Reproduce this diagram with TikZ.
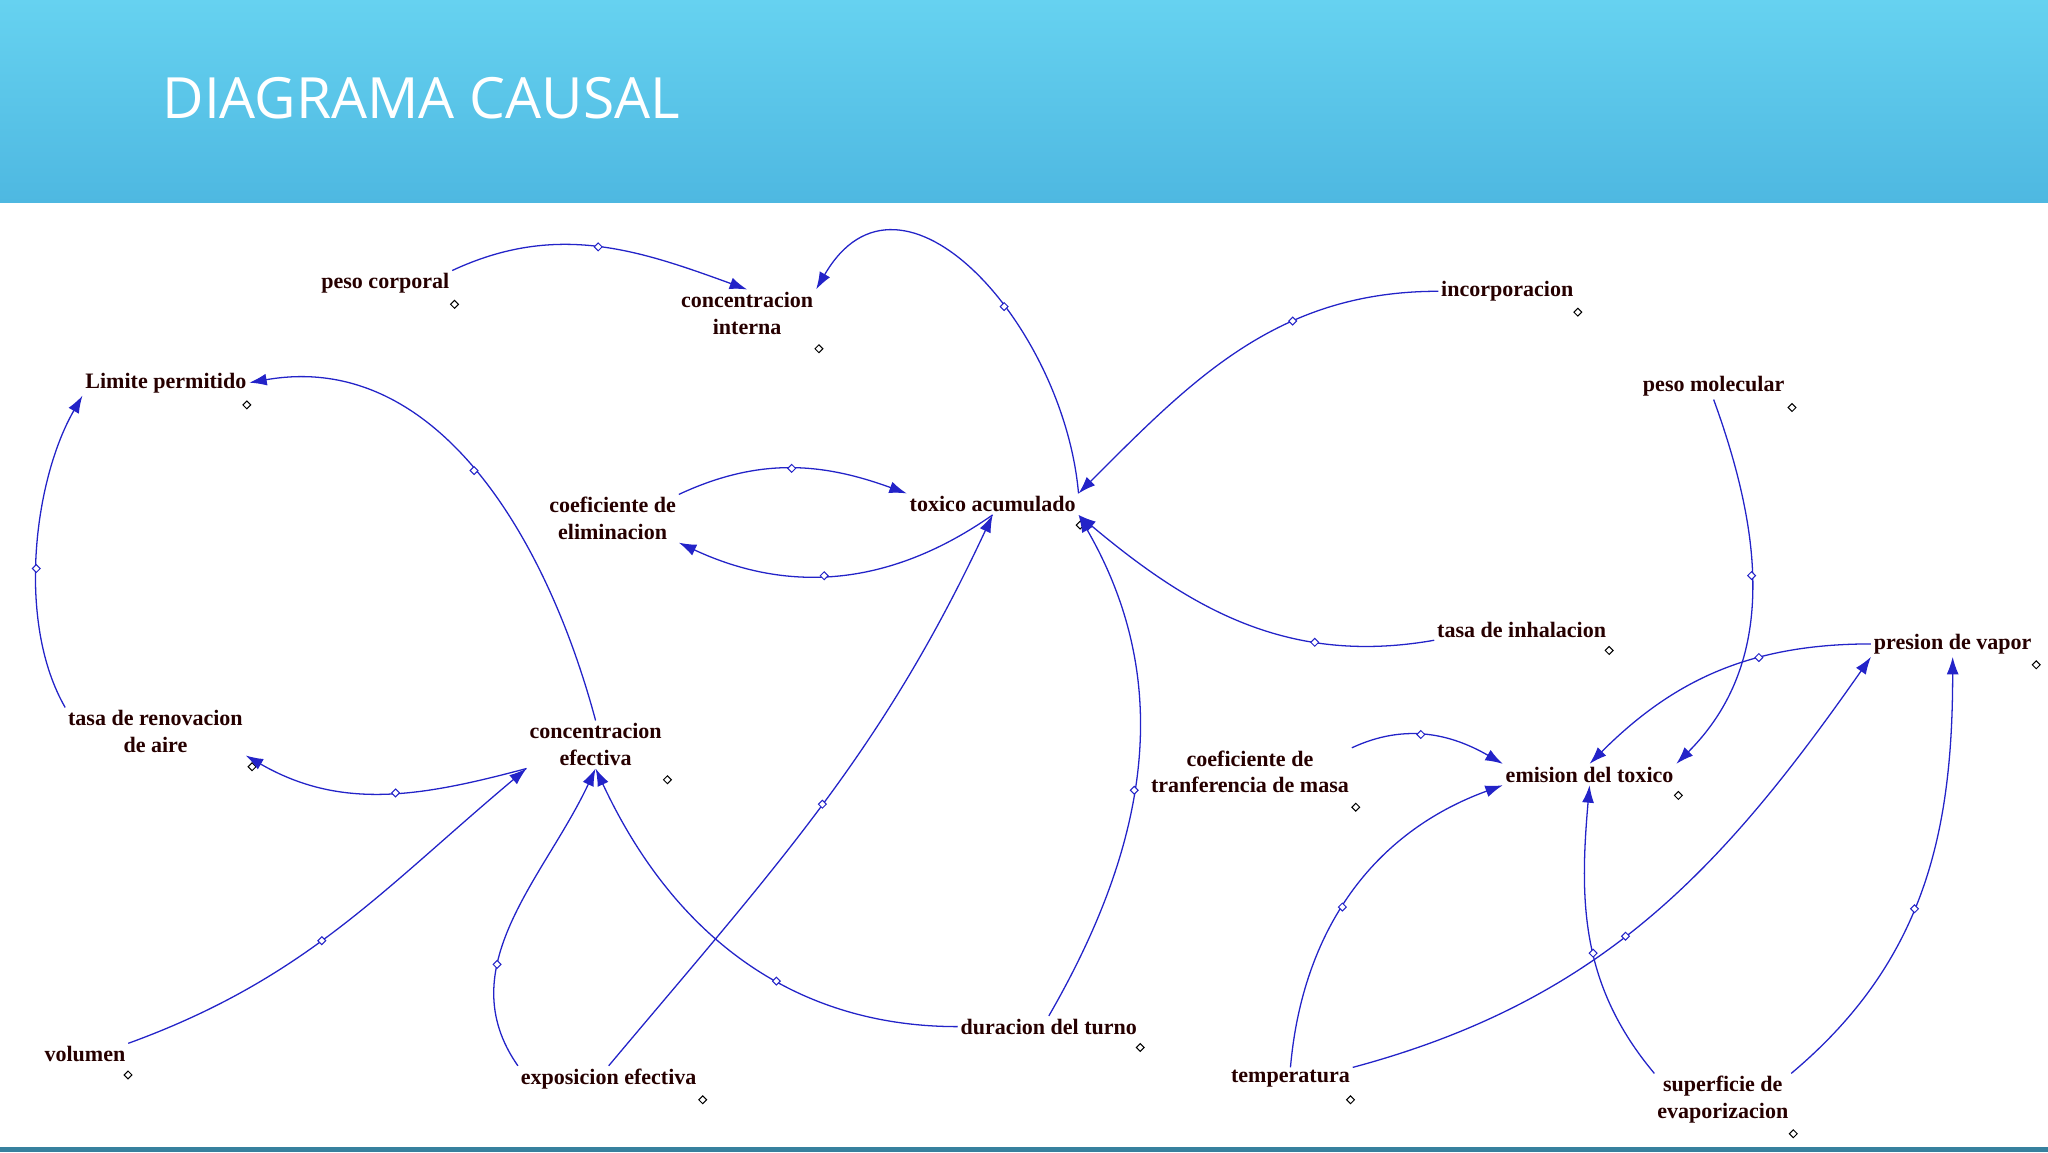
\documentclass[tikz,border=0pt]{standalone}
\usepackage{fontspec}
\setmainfont{Liberation Serif}
\newfontfamily\titlefont{Open Sans}
\usetikzlibrary{arrows.meta,shapes.geometric}
\definecolor{hdrA}{HTML}{66D2F0}
\definecolor{hdrB}{HTML}{4EB8E1}
\definecolor{arc}{HTML}{2323C8}
\begin{document}
\begin{tikzpicture}[x=0.05cm,y=-0.05cm,
  lab/.style={align=center,font=\bfseries\fontsize{24}{29}\selectfont,inner sep=3pt,text=black!85!red},
  lk/.style={draw=arc,line width=1.4pt,-{Latex[length=19pt,width=13pt]},looseness=1},
  dia/.style={diamond,draw=arc,line width=1.1pt,fill=white,inner sep=0pt,minimum size=9pt},
  ldia/.style={diamond,draw=black,line width=1.1pt,fill=white,inner sep=0pt,minimum size=9pt}]
\useasboundingbox (0,0) rectangle (1568,882);
\shade[top color=hdrA,bottom color=hdrB] (0,0) rectangle (1568,155);
\fill[hdrB!70!black] (0,878) rectangle (1568,882);
\node[anchor=west,text=white,font=\titlefont\fontsize{62}{70}\selectfont] (title) at (122,75) {DIAGRAMA CAUSAL};

\node[lab] (pc) at (295,217) {peso corporal};
\node[lab] (ci) at (572,240) {concentracion\\interna};
\node[lab] (lp) at (127,293) {Limite permitido};
\node[lab] (inc) at (1154,223) {incorporacion};
\node[lab] (pm) at (1312,296) {peso molecular};
\node[lab] (ce) at (469,397) {coeficiente de\\eliminacion};
\node[lab] (ta) at (760,386) {toxico acumulado};
\node[lab] (ti) at (1165,482) {tasa de inhalacion};
\node[lab] (pv) at (1495,493) {presion de vapor};
\node[lab] (tr) at (119,560) {tasa de renovacion\\de aire};
\node[lab] (cef) at (456,570) {concentracion\\efectiva};
\node[lab] (ct) at (957,591) {coeficiente de\\tranferencia de masa};
\node[lab] (et) at (1217,593) {emision del toxico};
\node[lab] (vol) at (65,807) {volumen};
\node[lab] (ee) at (466,826) {exposicion efectiva};
\node[lab] (dt) at (803,786) {duracion del turno};
\node[lab] (tem) at (988,826) {temperatura};
\node[lab] (se) at (1319,842) {superficie de\\evaporizacion};

\foreach \n/\p in {pc/{(348,233)},ci/{(627,267)},lp/{(189,310)},inc/{(1208,239)},pm/{(1372,312)},ta/{(827,402)},ti/{(1232,498)},pv/{(1559,509)},tr/{(193,587)},cef/{(511,597)},ct/{(1038,618)},et/{(1285,609)},vol/{(98,823)},ee/{(538,842)},dt/{(873,802)},tem/{(1034,842)},se/{(1373,868)}}
  \node[ldia] (d\n) at \p {};

\draw[lk] (pc.north east) to[out=25,in=160] node[dia,pos=.5]{} (ci.north);
\draw[lk] (ta.north east) to[out=95,in=60,looseness=1.3] node[dia,pos=.4]{} (ci.north east);
\draw[lk] (inc.west) to[out=180,in=45] node[dia,pos=.35]{} (ta.north east);
\draw[lk] (ce.north east) to[out=25,in=160] node[dia,pos=.5]{} (ta.north west);
\draw[lk] (ta.south) to[out=-145,in=-25] node[dia,pos=.55]{} (ce.south east);
\draw[lk] (ti.south west) to[out=190,in=-40] node[dia,pos=.3]{} (ta.south east);
\draw[lk] (dt.north) to[out=60,in=-60] node[dia,pos=.45]{} (ta.south east);
\draw[lk] (ee.north) to[out=50,in=-115] node[dia,pos=.5]{} (ta.south);
\draw[lk] (dt.west) to[out=180,in=-65] node[dia,pos=.4]{} (cef.south);
\draw[lk] (cef.north) to[out=105,in=10] node[dia,pos=.5]{} (lp.east);
\draw[lk] (tr.north west) to[out=120,in=-120,looseness=.8] node[dia,pos=.45]{} (lp.south west);
\draw[lk] (cef.south west) to[out=-165,in=-30] node[dia,pos=.45]{} (tr.south east);
\draw[lk] (vol.north east) to[out=20,in=-140] node[dia,pos=.45]{} (cef.south west);
\draw[lk] (ee.north west) to[out=125,in=-115] node[dia,pos=.35]{} (cef.south);
\draw[lk] (pm.south) to[out=-70,in=45] node[dia,pos=.45]{} (et.north east);
\draw[lk] (pv.west) to[out=180,in=45] node[dia,pos=.35]{} (et.north);
\draw[lk] (ct.north east) to[out=25,in=150] node[dia,pos=.45]{} (et.north west);
\draw[lk] (tem.north) to[out=85,in=-160] node[dia,pos=.45]{} (et.south west);
\draw[lk] (tem.north east) to[out=15,in=-125] node[dia,pos=.45]{} (pv.south west);
\draw[lk] (se.north west) to[out=130,in=-95] node[dia,pos=.45]{} (et.south);
\draw[lk] (se.north east) to[out=40,in=-90] node[dia,pos=.45]{} (pv.south);
\end{tikzpicture}
\end{document}
